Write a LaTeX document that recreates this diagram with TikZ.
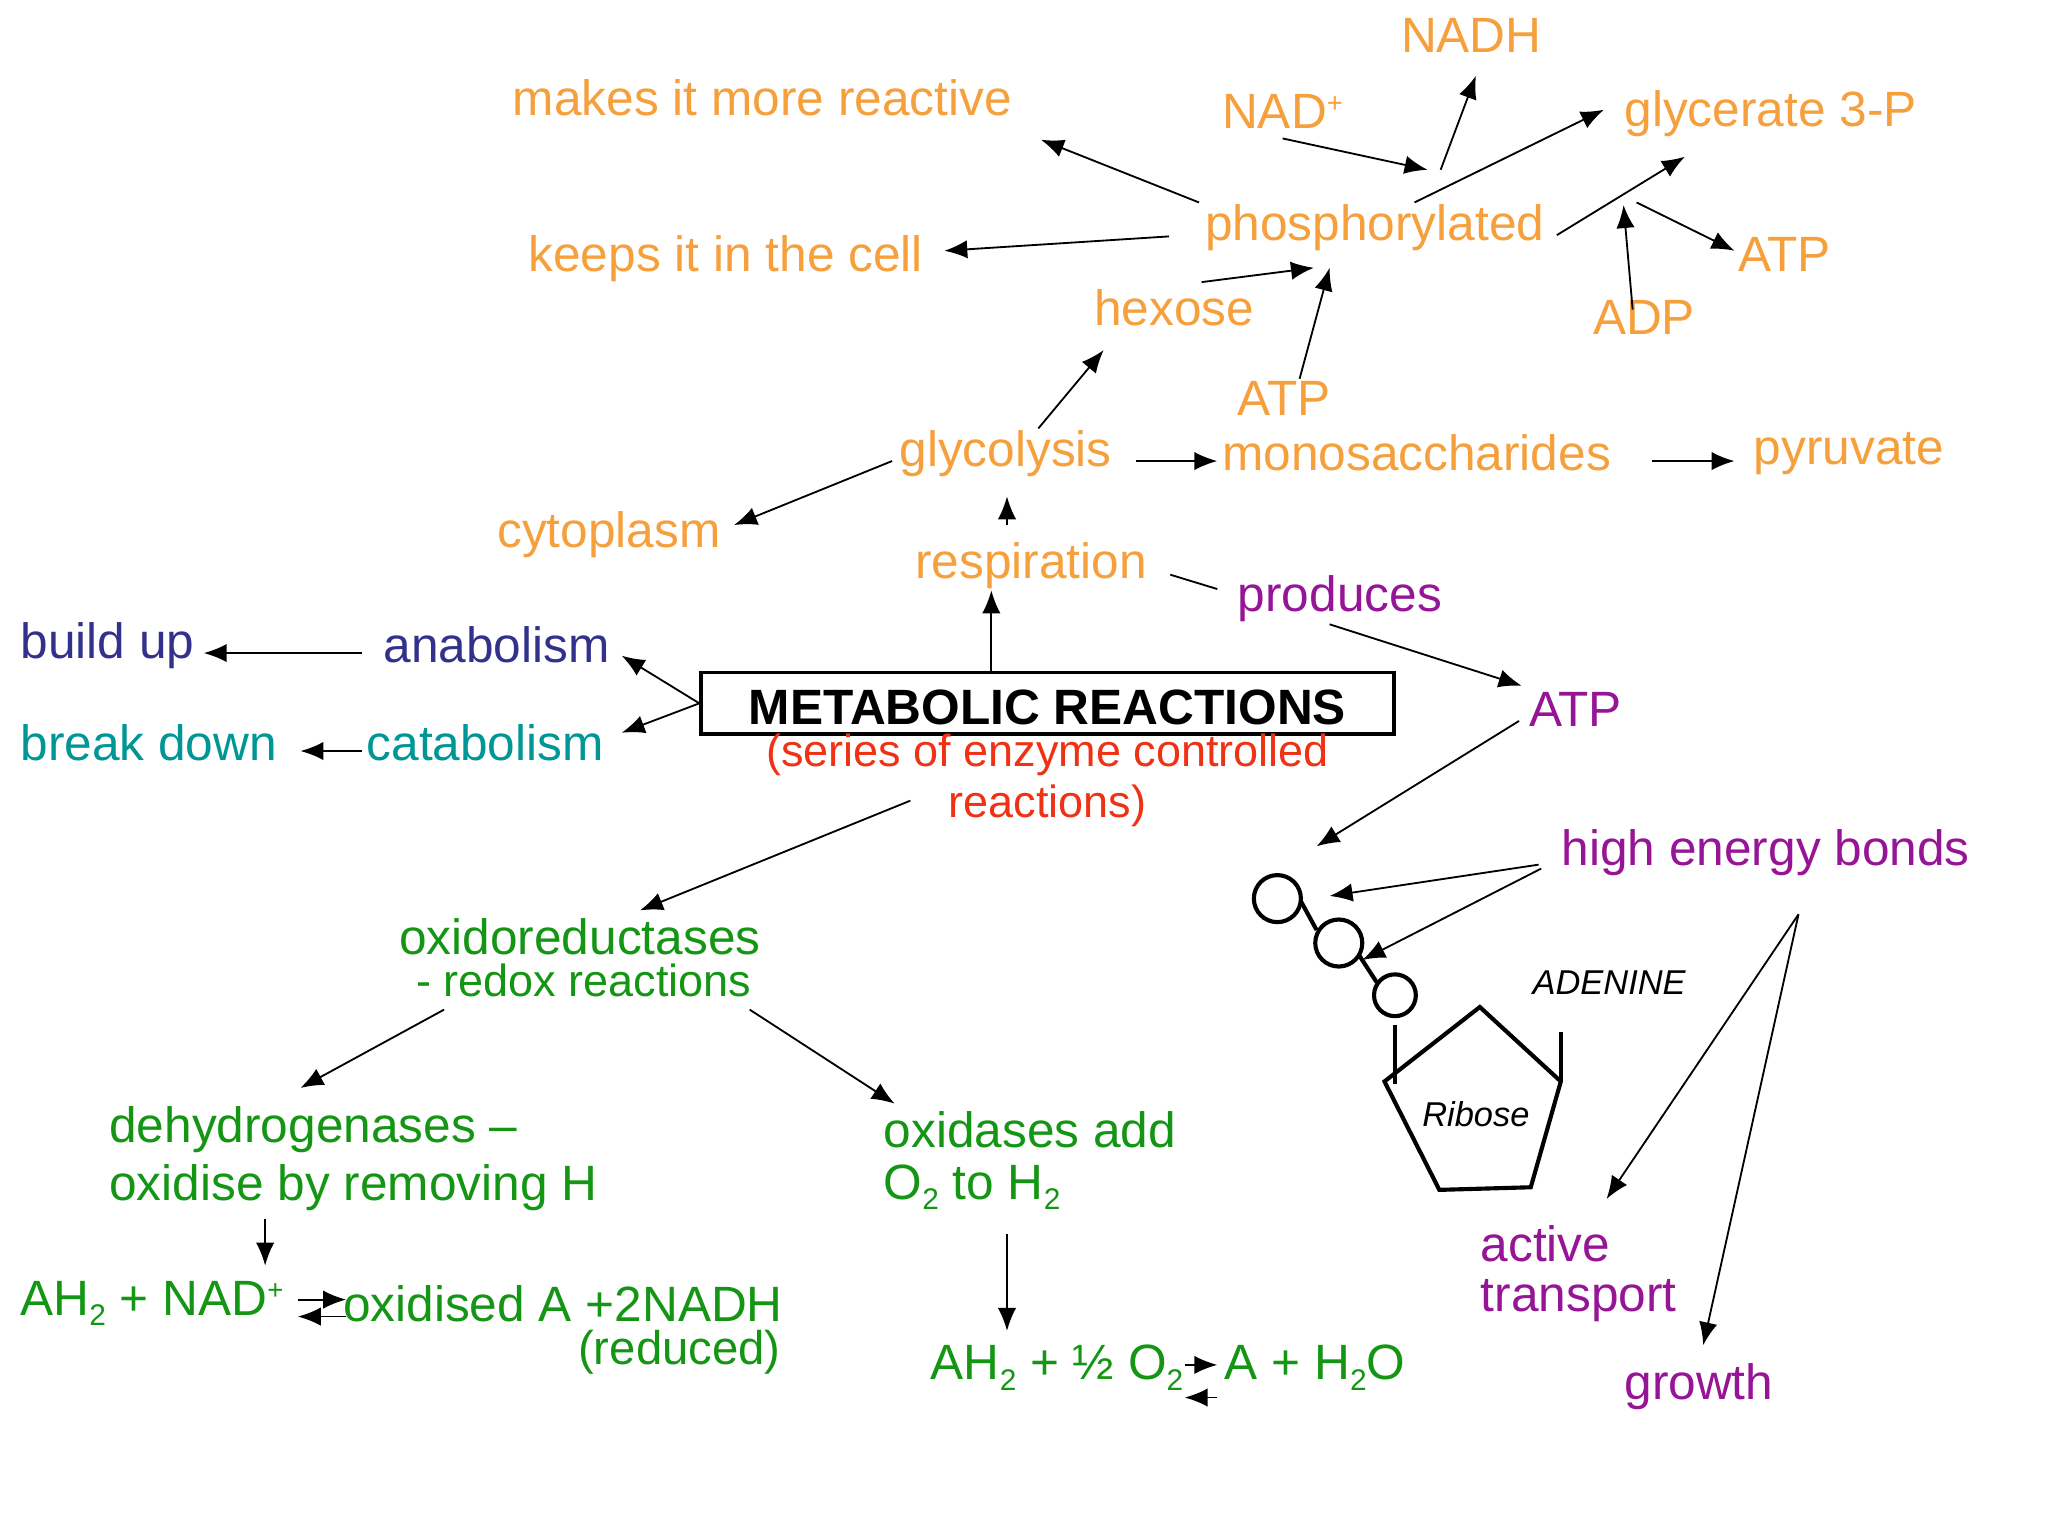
\documentclass[tikz,border=0pt]{standalone}
\usepackage{fontspec}
\setmainfont{Liberation Sans}
\usetikzlibrary{arrows.meta}
\definecolor{or}{RGB}{245,160,60}
\definecolor{pu}{RGB}{150,20,150}
\definecolor{nv}{RGB}{50,50,140}
\definecolor{tl}{RGB}{0,150,150}
\definecolor{gr}{RGB}{20,150,20}
\definecolor{rd}{RGB}{240,50,20}
\newcommand{\mysup}[1]{\raisebox{0.6ex}{\fontsize{6}{7}\selectfont #1}}
\newcommand{\mysub}[1]{\raisebox{-0.4ex}{\fontsize{6.5}{7}\selectfont #1}}
\tikzset{
 t/.style={anchor=west,inner sep=0pt,font=\fontsize{10.8}{12}\selectfont},
 ar/.style={-{Latex[length=5pt,width=4pt]},thin},
 hand/.style={line width=0.9pt}
}
\begin{document}
\begin{tikzpicture}[x=0.01cm,y=-0.01cm]
\useasboundingbox (0,0) rectangle (1568,1176);
\node[t,or] (mk) at (392,75) {makes it more reactive};
\node[t,or] (nadh) at (1072,27) {NADH};
\node[t,or] (nad) at (935,85) {NAD\mysup{+}};
\node[t,or] (gly3) at (1243,87) {glycerate 3-P};
\node[t,or] (keep) at (404,198) {keeps it in the cell};
\node[t,or] (ph) at (922,174) {phosphorylated};
\node[t,or] (atp1) at (1330,195) {ATP};
\node[t,or] (adp) at (1219,243) {ADP};
\node[t,or] (hex) at (837,236) {hexose};
\node[t,or] (atp2) at (947,305) {ATP};
\node[t,or] (glyc) at (688,347) {glycolysis};
\node[t,or] (mono) at (935,347) {monosaccharides};
\node[t,or] (pyr) at (1342,347) {pyruvate};
\node[t,or] (cyt) at (380,409) {cytoplasm};
\node[t,or] (resp) at (700,433) {respiration};
\node[t,pu] (prod) at (947,458) {produces};
\node[t,nv] (bu) at (15,494) {build up};
\node[t,nv] (ana) at (293,494) {anabolism};
\node[draw,thick,minimum width=5.3cm,minimum height=0.47cm,inner sep=0pt,font=\fontsize{10.8}{12}\selectfont\bfseries,text depth=0pt] (mr) at (802,538.5) {\raisebox{-0.3ex}{METABOLIC REACTIONS}};
\node[t,pu] (atp3) at (1170,543) {ATP};
\node[t,tl] (bd) at (15,569) {break down};
\node[t,tl] (cat) at (280,569) {catabolism};
\node[inner sep=0pt,rd,font=\fontsize{9.8}{11}\selectfont] (ser1) at (802,578) {(series of enzyme controlled};
\node[inner sep=0pt,rd,font=\fontsize{9.8}{11}\selectfont] (ser2) at (802,617) {reactions)};
\node[t,pu] (heb) at (1195,653) {high energy bonds};
\node[t,gr] (oxr) at (305,717) {oxidoreductases};
\node[t,gr,font=\fontsize{9.8}{11}\selectfont] (rr) at (318,751) {- redox reactions};
\node[t,gr] (dh1) at (83,865) {dehydrogenases --};
\node[t,gr] (dh2) at (83,909) {oxidise by removing H};
\node[t,gr] (ox1) at (676,865) {oxidases add};
\node[t,gr] (ox2) at (676,909) {O\mysub{2} to H\mysub{2}};
\node[t,gr] (e1) at (15,998) {AH\mysub{2} + NAD\mysup{+}};
\node[t,gr] (e2) at (262,998) {oxidised A +2NADH};
\node[t,gr,font=\fontsize{10.3}{12}\selectfont] (e3) at (442,1035) {(reduced)};
\node[t,gr] (f1) at (712,1047) {AH\mysub{2} + ½ O\mysub{2}};
\node[t,gr] (f2) at (937,1047) {A + H\mysub{2}O};
\node[t,pu] (act1) at (1133,952) {active};
\node[t,pu] (act2) at (1133,996) {transport};
\node[t,pu] (gro) at (1243,1062) {growth};
\draw[ar] (918,155) -- (797,107);
\draw[ar] (895,181) -- (723,192);
\draw[ar] (1083,155) -- (1228,84);
\draw[ar] (982,106) -- (1093,130);
\draw[ar] (1103,130) -- (1130,58);
\draw[ar] (1192,180) -- (1290,120);
\draw[ar] (1253,155) -- (1328,192);
\draw[ar] (1250,237) -- (1243,157);
\draw[ar] (920,216) -- (1006,205);
\draw[ar] (995,290) -- (1018,205);
\draw[ar] (795,328) -- (845,268);
\draw[ar] (870,353) -- (932,353);
\draw[ar] (1265,353) -- (1328,353);
\draw[ar] (683,353) -- (562,402);
\draw[ar] (771,402) -- (771,380);
\draw[ar] (mr.north -| 759,0) -- (759,452);
\draw (896,440) -- (932,451);
\draw[ar] (1018,478) -- (1165,525);
\draw[ar] (1163,552) -- (1008,648);
\draw[ar] (277,500) -- (156,500);
\draw[ar] (mr.west) -- (476,502);
\draw[ar] (mr.west) -- (476,561);
\draw[ar] (277,575) -- (230,575);
\draw[ar] (697,613) -- (490,697);
\draw[ar] (340,773) -- (230,833);
\draw[ar] (574,773) -- (685,845);
\draw[ar] (203,933) -- (203,969);
\draw[ar] (771,945) -- (771,1019);
\draw[ar] (228,995) -- (265,995);
\draw[ar] (265,1008) -- (228,1008);
\draw[ar] (907,1045) -- (932,1045);
\draw[ar] (932,1070) -- (907,1070);
\draw[ar] (1178,662) -- (1018,686);
\draw[ar] (1180,665) -- (1043,735);
\draw[ar] (1377,700) -- (1230,918);
\draw[ar] (1377,700) -- (1304,1030);
\draw[hand] (978,688) circle[radius=18];
\draw[hand] (1025,722) circle[radius=18];
\draw[hand] (1068,762) circle[radius=16];
\draw[hand] (996,690) -- (1008,712);
\draw[hand] (1041,732) -- (1054,752);
\draw[hand] (1068,785) -- (1068,830);
\draw[hand] (1195,790) -- (1195,828);
\draw[hand] (1060,828) -- (1133,771) -- (1195,828) -- (1172,909) -- (1102,911) -- cycle;
\node[inner sep=0pt,font=\fontsize{7.5}{9}\selectfont\itshape] (aden) at (1232,752) {ADENINE};
\node[inner sep=0pt,font=\fontsize{7.5}{9}\selectfont\itshape] (rib) at (1130,853) {Ribose};
\end{tikzpicture}
\end{document}
